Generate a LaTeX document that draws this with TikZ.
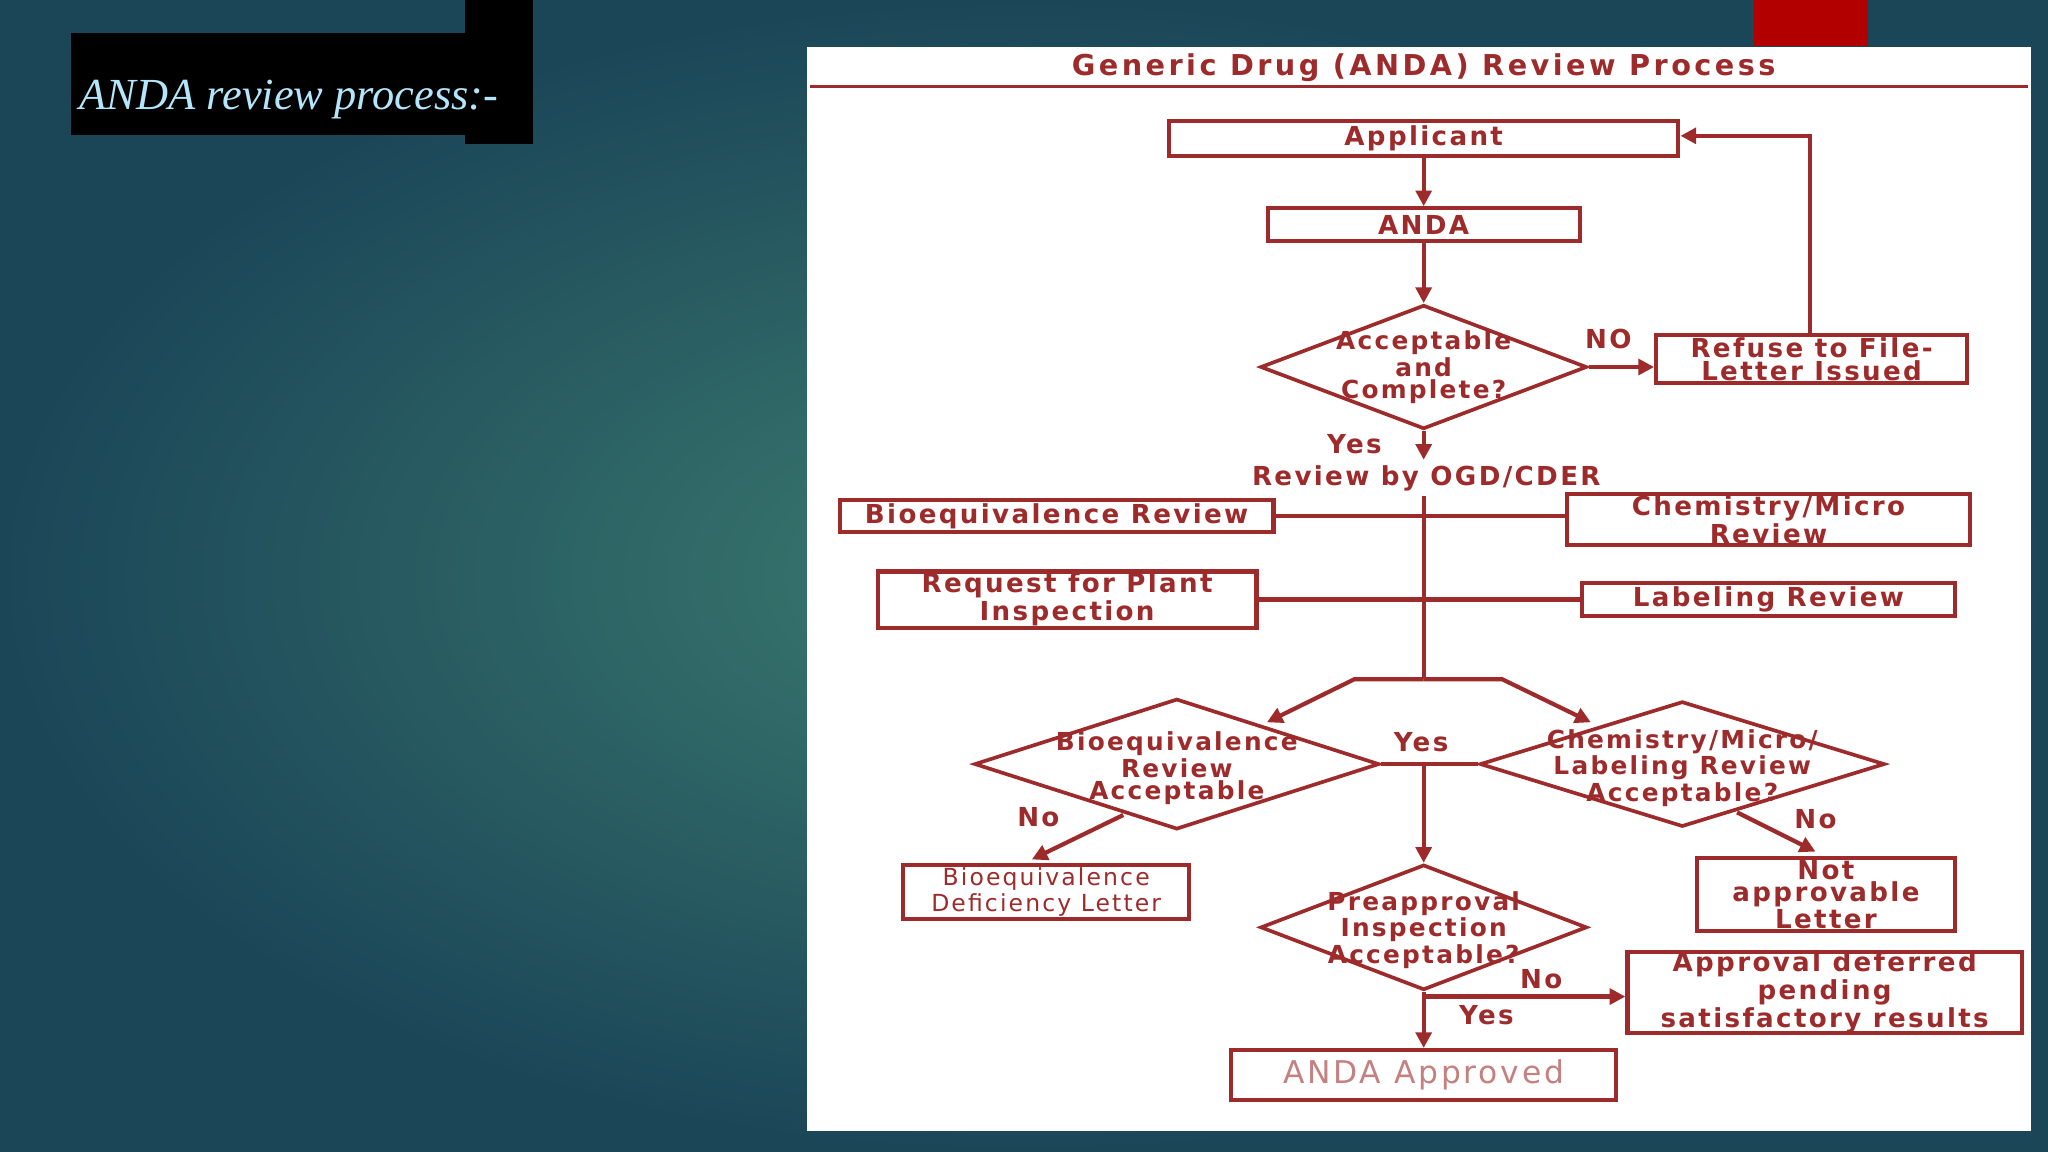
\documentclass[tikz,border=0pt]{standalone}
\usepackage{fontspec}
\setmainfont{DejaVu Sans}
\newfontfamily\wide[LetterSpace=9]{DejaVu Sans}
\newfontfamily\wider[LetterSpace=12]{DejaVu Sans}
\newfontfamily\ttl{Liberation Serif}
\usetikzlibrary{shapes.geometric,arrows.meta}
\definecolor{dr}{HTML}{9E2B2B}
\definecolor{bgin}{HTML}{3B7B6F}
\definecolor{bgout}{HTML}{1B4658}
\begin{document}
\begin{tikzpicture}[x=0.5pt,y=-0.5pt,
  box/.style={draw=dr,line width=1.6pt,fill=white,text=dr,font=\wide\bfseries\fontsize{10}{8.6}\selectfont,align=center,inner sep=0pt},
  dia/.style={draw=dr,line width=1.4pt,diamond,inner sep=0pt},
  dt/.style={text=dr,font=\wide\bfseries\fontsize{9.5}{8.4}\selectfont,align=center,inner sep=0pt},
  lab/.style={text=dr,font=\wide\bfseries\fontsize{10}{9}\selectfont,inner sep=0pt},
  ln/.style={draw=dr,line width=1.6pt},
  ar/.style={ln,-{Triangle[length=6pt,width=6pt]}}]
\useasboundingbox (0,0) rectangle (1568,882);
\shade[inner color=bgin,outer color=bgout] (0,0) rectangle (1568,882);
\fill[black] (54,25) rectangle (408,103);
\fill[black] (356,0) rectangle (408,110);
\fill[red!70!black] (1343,0) rectangle (1430,35);
\node[anchor=west,text=cyan!30!white,font=\ttl\itshape\fontsize{17}{17}\selectfont] (t) at (54,76) {ANDA review process:-};
\fill[white] (618,36) rectangle (1555,866);
\node[text=dr,font=\wider\bfseries\fontsize{11}{11}\selectfont] (title) at (1090,52) {Generic Drug (ANDA) Review Process};
\draw[dr,line width=1pt] (620,66) -- (1553,66);

\node[box,minimum width=195pt,minimum height=13.5pt] (app) at (1090,106) {Applicant};
\node[box,minimum width=119.5pt,minimum height=12.5pt] (anda) at (1090,172) {ANDA};
\node[dia,minimum width=125pt,minimum height=47.5pt] (d1) at (1090,281) {};
\node[dt] (d1t) at (1090,281) {Acceptable\\and\\Complete?};
\node[box,minimum width=119pt,minimum height=18.5pt] (ref) at (1387,275) {Refuse to File-\\Letter Issued};
\node[lab] (ogd) at (1092,366) {Review by OGD/CDER};
\node[box,minimum width=166pt,minimum height=12.5pt] (be) at (809,395) {Bioequivalence Review};
\node[box,minimum width=154pt,minimum height=19.5pt] (chem) at (1354,398) {Chemistry/Micro\\Review};
\node[box,minimum width=145pt,minimum height=21.5pt] (plant) at (817,459) {Request for Plant\\Inspection};
\node[box,minimum width=142.5pt,minimum height=12.5pt] (labl) at (1354,459) {Labeling Review};
\node[dia,minimum width=155pt,minimum height=50pt] (d2) at (901,585) {};
\node[dt] (d2t) at (901,588) {Bioequivalence\\Review\\Acceptable};
\node[dia,minimum width=155pt,minimum height=48pt] (d3) at (1288,585) {};
\node[dt] (d3t) at (1288,588) {Chemistry/Micro/\\Labeling Review\\Acceptable?};
\node[dia,minimum width=125pt,minimum height=48pt] (d4) at (1090,710) {};
\node[dt] (d4t) at (1090,712) {Preapproval\\Inspection\\Acceptable?};
\node[box,minimum width=109.5pt,minimum height=20.5pt,font=\wide\fontsize{9}{7.8}\selectfont] (bed) at (801,683) {Bioequivalence\\Deficiency Letter};
\node[box,minimum width=98.5pt,minimum height=28pt] (na) at (1398,685) {Not\\approvable\\Letter};
\node[box,minimum width=151pt,minimum height=23pt] (def) at (1397,760) {Approval deferred\\pending\\satisfactory results};
\node[box,minimum width=147.5pt,minimum height=19pt,font=\wide\fontsize{12}{12}\selectfont,text=dr!60] (ok) at (1090,823) {ANDA Approved};

\draw[ar] (app) -- (anda);
\draw[ar] (anda) -- (d1);
\draw[ar] (d1.east) -- node[lab,above=6pt,pos=0.3]{NO} (ref.west |- d1.east);
\coordinate (c1) at (1386,104);
\draw[ar] (ref.north -| c1) -- (c1) -- (app.east |- c1);
\coordinate (c2) at (1090,352);
\draw[ar] (d1.south) -- (c2);
\node[lab] (yes1) at (1037,340) {Yes};
\coordinate (top) at (1090,380);
\coordinate (mid) at (1090,520);
\draw[ln] (top) -- (mid);
\draw[ln] (be.east) -- (chem.west |- be.east);
\draw[ln] (plant.east) -- (labl.west);
\coordinate (l1) at (1037,520); \coordinate (r1) at (1150,520);
\coordinate (l2) at (970,553); \coordinate (r2) at (1218,553);
\draw[ar] (mid) -- (l1) -- (l2);
\draw[ar] (mid) -- (r1) -- (r2);
\draw[ln] (d2.east) -- (d3.west);
\node[lab] (yes2) at (1088,568) {Yes};
\coordinate (c3) at (1090,585);
\draw[ar] (c3) -- (d4.north);
\coordinate (s1) at (860,624); \coordinate (e1) at (790,658);
\draw[ar] (s1) -- (e1);
\node[lab] (no1) at (795,626) {No};
\coordinate (s2) at (1330,622); \coordinate (e2) at (1390,652);
\draw[ar] (s2) -- (e2);
\node[lab] (no2) at (1390,627) {No};
\draw[ar] (d4.south) -- (ok.north);
\coordinate (c4) at (1090,763);
\draw[ar] (c4) -- (def.west |- c4);
\node[lab] (no3) at (1180,750) {No};
\node[lab] (yes3) at (1138,777) {Yes};
\end{tikzpicture}
\end{document}
